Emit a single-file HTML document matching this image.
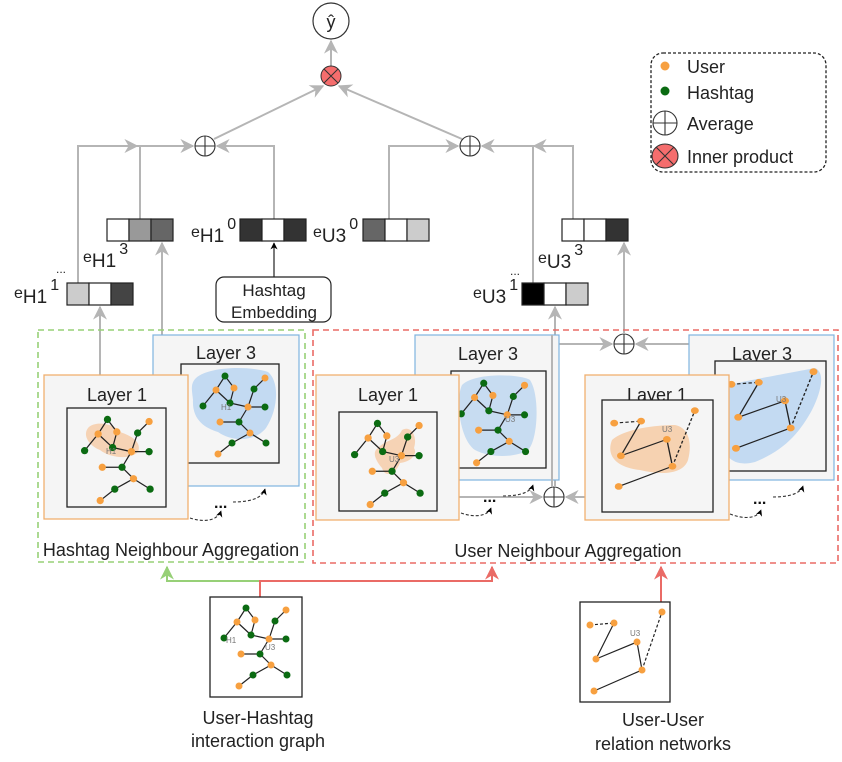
<!DOCTYPE html>
<html><head><meta charset="utf-8"><style>
html,body{margin:0;padding:0;background:#fff;}
svg{display:block;font-family:"Liberation Sans",Arial,sans-serif;}
</style></head><body>
<svg width="842" height="762" viewBox="0 0 842 762" xmlns="http://www.w3.org/2000/svg">
<defs>
<marker id="ag" viewBox="0 0 10 10" refX="9" refY="5" markerWidth="7" markerHeight="7" orient="auto-start-reverse"><path d="M0,0 L10,5 L0,10 L3,5 z" fill="#b5b5b5"/></marker>
<marker id="ab" viewBox="0 0 10 10" refX="9" refY="5" markerWidth="6" markerHeight="6" orient="auto"><path d="M0,0 L10,5 L0,10 L3,5 z" fill="#000"/></marker>
<marker id="agr" viewBox="0 0 10 10" refX="9" refY="5" markerWidth="7" markerHeight="7" orient="auto"><path d="M0,0 L10,5 L0,10 L3,5 z" fill="#97d077"/></marker>
<marker id="ar" viewBox="0 0 10 10" refX="9" refY="5" markerWidth="7" markerHeight="7" orient="auto"><path d="M0,0 L10,5 L0,10 L3,5 z" fill="#ea6b66"/></marker>
<g id="uh">
<g stroke="#222" stroke-width="1.2">
<line x1="28" y1="25" x2="37" y2="11"/><line x1="37" y1="11" x2="46" y2="23"/><line x1="46" y1="23" x2="42" y2="38"/><line x1="28" y1="25" x2="42" y2="38"/><line x1="28" y1="25" x2="15" y2="41"/><line x1="42" y1="38" x2="60" y2="42"/><line x1="60" y1="42" x2="66" y2="24"/><line x1="66" y1="24" x2="77" y2="13"/><line x1="60" y1="42" x2="77" y2="42"/><line x1="60" y1="42" x2="51" y2="57"/><line x1="32" y1="57" x2="51" y2="57"/><line x1="51" y1="57" x2="62" y2="68"/><line x1="62" y1="68" x2="44" y2="78"/><line x1="44" y1="78" x2="30" y2="89"/><line x1="62" y1="68" x2="78" y2="78"/>
</g>
<g fill="#f7a040"><circle cx="28" cy="25" r="3.5"/><circle cx="46" cy="23" r="3.5"/><circle cx="60" cy="42" r="3.5"/><circle cx="77" cy="13" r="3.5"/><circle cx="32" cy="57" r="3.5"/><circle cx="62" cy="68" r="3.5"/><circle cx="30" cy="89" r="3.5"/></g>
<g fill="#0b6b12"><circle cx="37" cy="11" r="3.5"/><circle cx="15" cy="41" r="3.5"/><circle cx="42" cy="38" r="3.5"/><circle cx="66" cy="24" r="3.5"/><circle cx="77" cy="42" r="3.5"/><circle cx="51" cy="57" r="3.5"/><circle cx="44" cy="78" r="3.5"/><circle cx="78" cy="78" r="3.5"/></g>
</g>
<g id="uu">
<g stroke="#222" stroke-width="1.2">
<line x1="10" y1="23" x2="34" y2="21" stroke-dasharray="3,2"/><line x1="34" y1="21" x2="16" y2="57"/><line x1="16" y1="57" x2="57" y2="40"/><line x1="57" y1="40" x2="62" y2="68"/><line x1="62" y1="68" x2="14" y2="89"/><line x1="62" y1="68" x2="82" y2="10" stroke-dasharray="3,2"/>
</g>
<g fill="#f7a040"><circle cx="10" cy="23" r="3.5"/><circle cx="34" cy="21" r="3.5"/><circle cx="82" cy="10" r="3.5"/><circle cx="16" cy="57" r="3.5"/><circle cx="57" cy="40" r="3.5"/><circle cx="62" cy="68" r="3.5"/><circle cx="14" cy="89" r="3.5"/></g>
</g>
</defs>

<!-- top -->
<circle cx="331" cy="21" r="18" fill="#fff" stroke="#333" stroke-width="1.2"/>
<text x="331" y="28" font-size="18" text-anchor="middle" fill="#222">ŷ</text>
<line x1="331" y1="66" x2="331" y2="41" stroke="#b5b5b5" stroke-width="2" marker-end="url(#ag)"/>
<circle cx="331" cy="76" r="10" fill="#f56d6d" stroke="#333" stroke-width="1"/>
<path d="M324,69 L338,83 M338,69 L324,83" stroke="#333" stroke-width="1"/>
<line x1="214" y1="139" x2="323" y2="86" stroke="#b5b5b5" stroke-width="2" marker-end="url(#ag)"/>
<line x1="462" y1="139" x2="339" y2="86" stroke="#b5b5b5" stroke-width="2" marker-end="url(#ag)"/>

<g stroke="#333" stroke-width="1.1" fill="#fff">
<circle cx="205" cy="146" r="10"/><path d="M195,146 H215 M205,136 V156"/>
<circle cx="470" cy="146" r="10"/><path d="M460,146 H480 M470,136 V156"/>
<circle cx="624" cy="344" r="10"/><path d="M614,344 H634 M624,334 V354"/>
<circle cx="554" cy="497" r="10"/><path d="M544,497 H564 M554,487 V507"/>
</g>

<g stroke="#b5b5b5" stroke-width="2" fill="none">
<path d="M78,283 V146 H193" marker-end="url(#ag)"/>
<path d="M78,146 H137" marker-end="url(#ag)"/>
<path d="M140,219 V146"/>
<path d="M274,219 V146 H217" marker-end="url(#ag)"/>
<path d="M389,219 V146 H458" marker-end="url(#ag)"/>
<path d="M533,283 V146 H482" marker-end="url(#ag)"/>
<path d="M573,219 V146 H534" marker-end="url(#ag)"/>
<path d="M100,375 V307" marker-end="url(#ag)"/>
<path d="M162,335 V243" marker-end="url(#ag)"/>
<path d="M555,487 V307" marker-end="url(#ag)"/>
<path d="M624,334 V243" marker-end="url(#ag)"/>
<path d="M559,344 H612" marker-end="url(#ag)"/>
<path d="M689,344 H636" marker-end="url(#ag)"/>
<path d="M459,497 H542" marker-end="url(#ag)"/>
<path d="M585,497 H566" marker-end="url(#ag)"/>
</g>

<g stroke="#222" stroke-width="1.2">
<rect x="107" y="219" width="22" height="22" fill="#fff"/><rect x="129" y="219" width="22" height="22" fill="#999"/><rect x="151" y="219" width="22" height="22" fill="#666"/>
<rect x="240" y="219" width="22" height="22" fill="#333"/><rect x="262" y="219" width="22" height="22" fill="#fff"/><rect x="284" y="219" width="22" height="22" fill="#333"/>
<rect x="363" y="219" width="22" height="22" fill="#666"/><rect x="385" y="219" width="22" height="22" fill="#fff"/><rect x="407" y="219" width="22" height="22" fill="#ccc"/>
<rect x="562" y="219" width="22" height="22" fill="#fff"/><rect x="584" y="219" width="22" height="22" fill="#fff"/><rect x="606" y="219" width="22" height="22" fill="#333"/>
<rect x="67" y="283" width="22" height="22" fill="#ccc"/><rect x="89" y="283" width="22" height="22" fill="#fff"/><rect x="111" y="283" width="22" height="22" fill="#444"/>
<rect x="522" y="283" width="22" height="22" fill="#000"/><rect x="544" y="283" width="22" height="22" fill="#fff"/><rect x="566" y="283" width="22" height="22" fill="#ccc"/>
</g>
<g font-size="16" fill="#222">
<text x="14" y="298">e<tspan font-size="19" dy="5">H1</tspan><tspan font-size="16" dy="-13" dx="3">1</tspan></text>
<text x="83" y="262">e<tspan font-size="19" dy="5">H1</tspan><tspan font-size="16" dy="-13" dx="3">3</tspan></text>
<text x="191" y="237">e<tspan font-size="19" dy="5">H1</tspan><tspan font-size="16" dy="-13" dx="3">0</tspan></text>
<text x="313" y="237">e<tspan font-size="19" dy="5">U3</tspan><tspan font-size="16" dy="-13" dx="3">0</tspan></text>
<text x="473" y="298">e<tspan font-size="19" dy="5">U3</tspan><tspan font-size="16" dy="-13" dx="3">1</tspan></text>
<text x="538" y="263">e<tspan font-size="19" dy="5">U3</tspan><tspan font-size="16" dy="-13" dx="3">3</tspan></text>
<text x="56" y="273" font-size="12">...</text>
<text x="510" y="275" font-size="12">...</text>
</g>

<rect x="216" y="277" width="115" height="45" rx="8" fill="#fff" stroke="#222" stroke-width="1.2"/>
<text x="274" y="296" font-size="17" text-anchor="middle" fill="#222">Hashtag</text>
<text x="274" y="318" font-size="17" text-anchor="middle" fill="#222">Embedding</text>
<line x1="274" y1="277" x2="274" y2="243" stroke="#222" stroke-width="1.2" marker-end="url(#ab)"/>

<rect x="651" y="53" width="175" height="119" rx="12" fill="#fff" stroke="#222" stroke-width="1.3" stroke-dasharray="3,2"/>
<circle cx="665" cy="66" r="4.5" fill="#f7a040"/><text x="687" y="73" font-size="18" fill="#222">User</text>
<circle cx="665" cy="91" r="4.5" fill="#0b6b12"/><text x="687" y="99" font-size="18" fill="#222">Hashtag</text>
<circle cx="665" cy="123" r="12" fill="#fff" stroke="#333" stroke-width="1.1"/><path d="M653,123 H677 M665,111 V135" stroke="#333" stroke-width="1.1"/><text x="687" y="130" font-size="18" fill="#222">Average</text>
<ellipse cx="665" cy="156" rx="13" ry="12" fill="#f56d6d" stroke="#333" stroke-width="1.1"/><path d="M656,147 L674,165 M674,147 L656,165" stroke="#333" stroke-width="1.1"/><text x="687" y="163" font-size="18" fill="#222">Inner product</text>

<rect x="38" y="330" width="267" height="232" fill="none" stroke="#97d077" stroke-width="1.6" stroke-dasharray="6,4"/>
<rect x="313" y="330" width="525" height="233" fill="none" stroke="#ea6b66" stroke-width="1.6" stroke-dasharray="6,4"/>
<text x="171" y="556" font-size="18" text-anchor="middle" fill="#222">Hashtag Neighbour Aggregation</text>
<text x="568" y="557" font-size="18" text-anchor="middle" fill="#222">User Neighbour Aggregation</text>

<!-- Hashtag Layer 3 -->
<rect x="153" y="335" width="146" height="151" fill="#f5f5f5" stroke="#7eb3e0" stroke-width="1.2"/>
<text x="226" y="359" font-size="18" text-anchor="middle" fill="#222">Layer 3</text>
<rect x="181" y="364" width="98" height="99" fill="#f5f5f5" stroke="#222" stroke-width="1.3"/>
<path d="M196,378 C210,366 250,366 268,372 C280,382 278,410 266,428 C255,442 232,442 218,432 C205,428 192,420 193,400 C192,390 190,384 196,378 z" fill="#a8cbef" opacity="0.65"/>
<g transform="translate(188,365)"><use href="#uh"/></g>
<text x="221" y="410" font-size="8" fill="#777">H1</text>

<!-- Hashtag Layer 1 -->
<rect x="44" y="375" width="144" height="144" fill="#f5f5f5" stroke="#f0b070" stroke-width="1.3"/>
<text x="117" y="401" font-size="18" text-anchor="middle" fill="#222">Layer 1</text>
<rect x="67" y="408" width="99" height="99" fill="#f5f5f5" stroke="#222" stroke-width="1.3"/>
<path d="M88,428 C95,420 115,424 120,432 C132,436 142,442 138,452 C130,460 110,458 100,450 C90,446 82,436 88,428 z" fill="#f6c59a" opacity="0.7"/>
<g transform="translate(69,408) scale(1.04)"><use href="#uh"/></g>
<text x="106" y="454" font-size="8" fill="#777">H1</text>

<g stroke="#333" stroke-width="1.1" fill="none" stroke-dasharray="3,2">
<path d="M190,518 C205,523 218,520 221,511" marker-end="url(#ab)"/>
<path d="M233,502 C245,502 262,500 265,489" marker-end="url(#ab)"/>
</g>
<text x="214" y="508" font-size="16" font-weight="bold" fill="#111">...</text>

<!-- User Layer 3 left -->
<rect x="415" y="335" width="144" height="145" fill="#f5f5f5" stroke="#7eb3e0" stroke-width="1.2"/>
<text x="488" y="360" font-size="18" text-anchor="middle" fill="#222">Layer 3</text>
<rect x="451" y="371" width="95" height="97" fill="#f5f5f5" stroke="#222" stroke-width="1.3"/>
<path d="M462,385 C475,372 520,374 530,380 C540,395 538,440 528,450 C515,458 490,458 475,450 C460,440 455,400 462,385 z" fill="#a8cbef" opacity="0.6"/>
<g transform="translate(446,372) scale(1.02)"><use href="#uh"/></g>
<text x="505" y="422" font-size="8" fill="#777">U3</text>
<line x1="552" y1="335" x2="552" y2="487" stroke="#b5b5b5" stroke-width="2"/>

<!-- User Layer 1 left -->
<rect x="316" y="375" width="143" height="145" fill="#f5f5f5" stroke="#f0b070" stroke-width="1.3"/>
<text x="388" y="401" font-size="18" text-anchor="middle" fill="#222">Layer 1</text>
<rect x="339" y="412" width="98" height="99" fill="#f5f5f5" stroke="#222" stroke-width="1.3"/>
<path d="M378,448 C385,440 398,440 402,430 C410,425 418,435 414,448 C418,455 410,462 400,463 C395,475 385,478 382,468 C375,460 372,452 378,448 z" fill="#f6c59a" opacity="0.7"/>
<g transform="translate(339,412) scale(1.04)"><use href="#uh"/></g>
<text x="389" y="462" font-size="8" fill="#777">U3</text>

<!-- User Layer 3 right -->
<rect x="689" y="335" width="145" height="145" fill="#f5f5f5" stroke="#7eb3e0" stroke-width="1.2"/>
<text x="762" y="360" font-size="18" text-anchor="middle" fill="#222">Layer 3</text>
<rect x="715" y="361" width="111" height="110" fill="#f5f5f5" stroke="#222" stroke-width="1.3"/>
<path d="M728,385 C760,378 795,372 815,368 C825,372 822,390 812,410 C800,432 785,450 755,462 C732,468 720,455 724,432 C722,415 715,395 728,385 z" fill="#a8cbef" opacity="0.65"/>
<g transform="translate(720,362) scale(1.14,0.97)"><use href="#uu"/></g>
<text x="776" y="402" font-size="8" fill="#777">U3</text>

<!-- User Layer 1 right -->
<rect x="585" y="375" width="144" height="145" fill="#f5f5f5" stroke="#f0b070" stroke-width="1.3"/>
<text x="657" y="401" font-size="18" text-anchor="middle" fill="#222">Layer 1</text>
<rect x="602" y="400" width="111" height="112" fill="#f5f5f5" stroke="#222" stroke-width="1.3"/>
<path d="M612,440 C625,428 660,425 675,425 C690,428 692,445 688,460 C683,475 660,475 640,470 C620,468 605,458 612,440 z" fill="#f6c59a" opacity="0.75"/>
<g transform="translate(603,401) scale(1.12,0.96)"><use href="#uu"/></g>
<text x="662" y="432" font-size="8" fill="#777">U3</text>

<g stroke="#333" stroke-width="1.1" fill="none" stroke-dasharray="3,2">
<path d="M461,513 C475,518 488,516 491,508" marker-end="url(#ab)"/>
<path d="M503,496 C515,496 530,494 533,485" marker-end="url(#ab)"/>
<path d="M730,514 C745,520 758,518 761,510" marker-end="url(#ab)"/>
<path d="M773,497 C785,497 800,495 803,486" marker-end="url(#ab)"/>
</g>
<text x="483" y="502" font-size="16" font-weight="bold" fill="#111">...</text>
<text x="753" y="504" font-size="16" font-weight="bold" fill="#111">...</text>

<path d="M260,581 H167 V567" stroke="#97d077" stroke-width="2" fill="none" marker-end="url(#agr)"/>
<path d="M260,597 V581 H492 V567" stroke="#ea6b66" stroke-width="2" fill="none" marker-end="url(#ar)"/>
<path d="M661,602 V567" stroke="#ea6b66" stroke-width="2" fill="none" marker-end="url(#ar)"/>

<rect x="210" y="597" width="92" height="100" fill="#fff" stroke="#222" stroke-width="1.3"/>
<g transform="translate(209,597)"><use href="#uh"/></g>
<text x="226" y="643" font-size="8" fill="#777">H1</text>
<text x="265" y="650" font-size="8" fill="#777">U3</text>
<text x="258" y="724" font-size="18" text-anchor="middle" fill="#222">User-Hashtag</text>
<text x="258" y="747" font-size="18" text-anchor="middle" fill="#222">interaction graph</text>

<rect x="580" y="602" width="90" height="100" fill="#fff" stroke="#222" stroke-width="1.3"/>
<g transform="translate(580,602)"><use href="#uu"/></g>
<text x="630" y="636" font-size="8" fill="#777">U3</text>
<text x="663" y="726" font-size="18" text-anchor="middle" fill="#222">User-User</text>
<text x="663" y="750" font-size="18" text-anchor="middle" fill="#222">relation networks</text>
</svg>
</body></html>
